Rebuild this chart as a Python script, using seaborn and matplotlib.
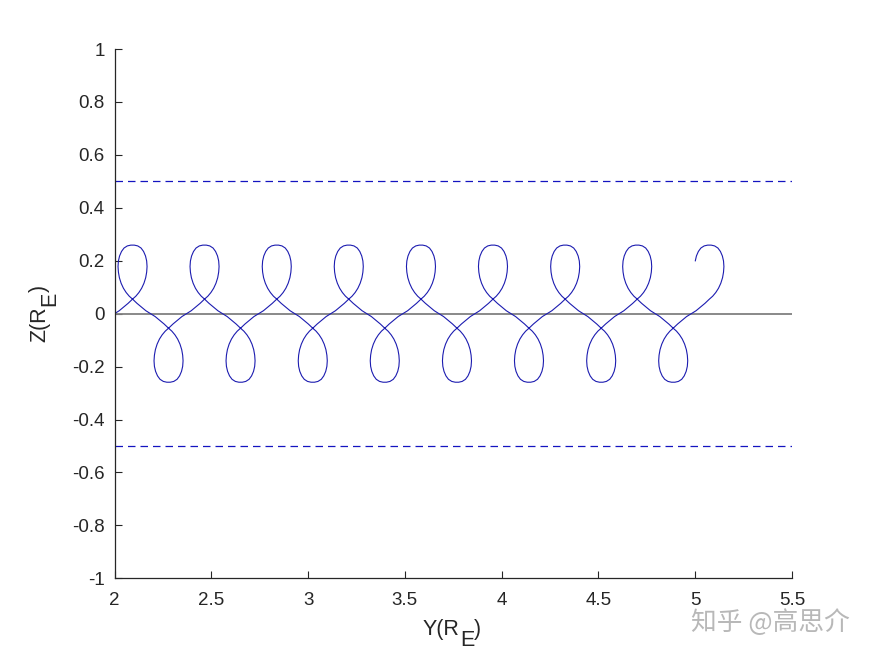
import numpy as np
import pandas as pd
import matplotlib
matplotlib.use("Agg")
import matplotlib.pyplot as plt
import seaborn as sns

# one period of the orbit (top loop then bottom loop), read off the first
# loop pair as offsets from the start of the cycle, in R_E
loop_dy = [0.000, 0.024, 0.047, 0.070, 0.093, 0.110, 0.126, 0.140, 0.152, 0.161,
           0.166, 0.168, 0.166, 0.160, 0.150, 0.137, 0.120, 0.102, 0.084, 0.066,
           0.049, 0.036, 0.026, 0.020, 0.018, 0.020, 0.025, 0.034, 0.046, 0.060,
           0.076, 0.093, 0.116, 0.139, 0.162,
           0.186, 0.210, 0.233, 0.256, 0.279, 0.296, 0.312, 0.326, 0.338, 0.347,
           0.352, 0.354, 0.352, 0.346, 0.336, 0.323, 0.306, 0.288, 0.270, 0.252,
           0.235, 0.222, 0.212, 0.206, 0.204, 0.206, 0.211, 0.220, 0.232, 0.246,
           0.262, 0.279, 0.302, 0.325, 0.348]
loop_z = [0.000, 0.011, 0.025, 0.039, 0.055, 0.066, 0.080, 0.096, 0.115, 0.136,
          0.157, 0.178, 0.199, 0.218, 0.235, 0.248, 0.256, 0.259, 0.259, 0.256,
          0.248, 0.235, 0.218, 0.199, 0.178, 0.157, 0.136, 0.115, 0.096, 0.080,
          0.066, 0.055, 0.039, 0.025, 0.011,
          0.000, -0.011, -0.025, -0.039, -0.055, -0.066, -0.080, -0.096, -0.115, -0.136,
          -0.157, -0.178, -0.199, -0.218, -0.235, -0.248, -0.256, -0.259, -0.259, -0.256,
          -0.248, -0.235, -0.218, -0.199, -0.178, -0.157, -0.136, -0.115, -0.096, -0.080,
          -0.066, -0.055, -0.039, -0.025, -0.011]

# where each cycle starts on the Z=0 line
cycle_start = [2.000, 2.372, 2.745, 3.117, 3.490, 3.862, 4.235, 4.607, 4.980]
last_cycle_pts = 24   # orbit stops part way down the last top loop

boundary_z = [0.5, -0.5]
y_range = [2.0, 5.5]

# build the orbit
ys, zs = [], []
for i, s in enumerate(cycle_start):
    n = len(loop_dy) if i < len(cycle_start) - 1 else last_cycle_pts
    ys += [s + d for d in loop_dy[:n]]
    zs += loop_z[:n]
orbit = pd.DataFrame({"Y": ys, "Z": zs})

sns.set_style("ticks")
plt.rcParams["font.family"] = ["Liberation Sans", "DejaVu Sans"]

W, H = 875, 656
fig = plt.figure(figsize=(W / 100, H / 100), dpi=100)
ax = fig.add_axes([0.1309, 0.1184, 0.7743, 0.8069])

# reference line and the +-0.5 boundaries
sns.lineplot(x=y_range, y=[0, 0], ax=ax, color="#808080", linewidth=1.3)
for bz in boundary_z:
    ax.plot(y_range, [bz, bz], color="#1414c0", linewidth=0.9,
            linestyle=(0, (6, 4)), snap=True)

sns.lineplot(data=orbit, x="Y", y="Z", sort=False, estimator=None,
             ax=ax, color="#1c1cb0", linewidth=0.8)

ax.set_xlim(2, 5.5)
ax.set_ylim(-1, 1)
ax.set_xticks([2, 2.5, 3, 3.5, 4, 4.5, 5, 5.5])
ax.set_xticklabels(["2", "2.5", "3", "3.5", "4", "4.5", "5", "5.5"])
ax.set_yticks(np.round(np.arange(-1, 1.01, 0.2), 1))
ax.set_yticklabels(["-1", "-0.8", "-0.6", "-0.4", "-0.2", "0",
                    "0.2", "0.4", "0.6", "0.8", "1"])
ax.set_xlabel("")
ax.set_ylabel("")

sns.despine(ax=ax)
for sp in ["left", "bottom"]:
    ax.spines[sp].set_color("#262626")
    ax.spines[sp].set_linewidth(0.9)
ax.tick_params(axis="both", direction="in", length=5, width=0.8,
               colors="#262626", labelsize=13.5)
ax.tick_params(axis="x", pad=10)
ax.tick_params(axis="y", pad=7)

# axis labels with a full-size, lowered subscript (MATLAB style)
fs = 15.5
lab_kw = dict(fontsize=fs, color="#262626", rotation_mode="anchor",
              ha="left", va="baseline")
renderer = fig.canvas.get_renderer()
drop = 10.5  # px the subscript sits below the baseline


def label_parts(head, sub, tail, rot):
    parts = [fig.text(0, 0, t, rotation=rot, **lab_kw) for t in (head, sub, tail)]
    lens = []
    for p in parts:
        bb = p.get_window_extent(renderer)
        lens.append(bb.width if rot == 0 else bb.height)
    return parts, lens


# x label: centred under the axes, baseline at ~635 px from top
parts, lens = label_parts("Y(R", "E", ")", 0)
x = 452 - sum(lens) / 2
base = H - 635.5
for p, ln, dy in zip(parts, lens, [0, -drop, 0]):
    p.set_position((x / W, (base + dy) / H))
    x += ln

# y label: rotated, centred on the axes, baseline at ~45 px from left
parts, lens = label_parts("Z(R", "E", ")", 90)
yb_ref = 45
y = H - 313.5 - sum(lens) / 2
for p, ln, dx in zip(parts, lens, [0, drop, 0]):
    p.set_position(((yb_ref + dx) / W, y / H))
    y += ln

fig.text(0.790, 1 - 622.5 / H, "知乎 @高思介", fontsize=18.5, color="#b8b8b8",
         va="center", family=["Noto Sans CJK SC", "DejaVu Sans"])

fig.savefig("out.png", dpi=100)
